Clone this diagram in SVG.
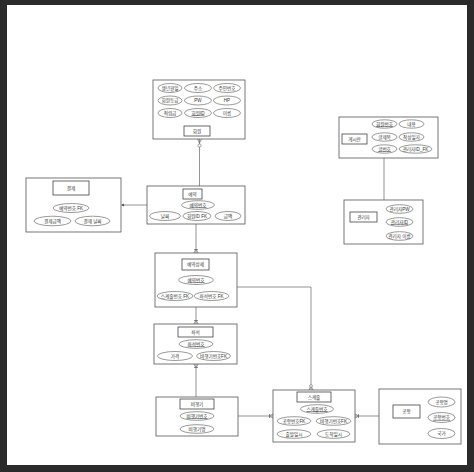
<svg xmlns="http://www.w3.org/2000/svg" width="474" height="472" viewBox="0 0 474 472">
<style>
.box{fill:#fff;stroke:#555;stroke-width:0.8}
.tb{fill:#fff;stroke:#444;stroke-width:0.8}
.el{fill:#fff;stroke:#555;stroke-width:0.6}
.t{font-family:"Liberation Sans","Noto Sans CJK KR",sans-serif;font-size:4.6px;fill:#333;text-anchor:middle;dominant-baseline:central}
.u{text-decoration:underline}
.c{fill:none;stroke:#666;stroke-width:0.7}
</style>
<rect x="0" y="0" width="474" height="472" fill="#2b2b2b"/>
<rect x="7" y="5" width="460" height="460" fill="#fff"/>

<g id="connectors">
  <!-- 회원 - 예약 -->
  <line class="c" x1="199.5" y1="139" x2="199.5" y2="186"/>
  <path class="c" d="M197.5,139 L199.5,143 L201.5,139"/>
  <circle cx="199.5" cy="145.5" r="1.6" fill="#fff" stroke="#666" stroke-width="0.6"/>
  <!-- 예약 -> 결제 -->
  <line class="c" x1="147" y1="205" x2="122" y2="205"/>
  <path d="M121,205 L124,203.6 L124,206.4 Z" fill="#555"/>
  <!-- 예약 - 예약상세 -->
  <line class="c" x1="196" y1="224" x2="196" y2="253"/>
  <path class="c" d="M194,253 L196,249 L198,253 M194,249.5 H198"/>
  <!-- 예약상세 - 스케줄 -->
  <path class="c" d="M237,287 H311 V390"/>
  <path class="c" d="M309,390 L311,386 L313,390"/>
  <circle cx="311" cy="386" r="1.4" fill="#fff" stroke="#666" stroke-width="0.6"/>
  <!-- 예약상세 - 좌석 -->
  <line class="c" x1="196" y1="307" x2="196" y2="324"/>
  <path class="c" d="M194,324 L196,320 L198,324 M194,320.5 H198"/>
  <!-- 좌석 - 비행기 -->
  <line class="c" x1="196" y1="364" x2="196" y2="397"/>
  <path class="c" d="M194,364 L196,368 L198,364 M194,367.5 H198"/>
  <!-- 비행기 - 스케줄 -->
  <line class="c" x1="238" y1="416" x2="273" y2="416"/>
  <path class="c" d="M273,414 L269,416 L273,418 M269.5,414 V418"/>
  <!-- 공항 - 스케줄 -->
  <line class="c" x1="379" y1="416" x2="355" y2="416"/>
  <path class="c" d="M355,414 L359,416 L355,418 M358.5,414 V418"/>
  <!-- 게시판 - 관리자 -->
  <line class="c" x1="384" y1="158" x2="384" y2="200"/>
</g>

<g id="member">
  <rect class="box" x="153" y="80" width="92" height="59"/>
  <ellipse class="el" cx="170" cy="88" rx="12" ry="4.5"/><text class="t" x="170" y="88">생년월일</text>
  <ellipse class="el" cx="198" cy="88" rx="13.5" ry="4.5"/><text class="t" x="198" y="88">주소</text>
  <ellipse class="el" cx="227" cy="88" rx="13.5" ry="4.5"/><text class="t" x="227" y="88">주민번호</text>
  <ellipse class="el" cx="170" cy="100.5" rx="12" ry="4.5"/><text class="t" x="170" y="100.5">회원등급</text>
  <ellipse class="el" cx="198" cy="100.5" rx="13.5" ry="4.5"/><text class="t" x="198" y="100.5">PW</text>
  <ellipse class="el" cx="227" cy="100.5" rx="13.5" ry="4.5"/><text class="t" x="227" y="100.5">HP</text>
  <ellipse class="el" cx="170" cy="113" rx="12" ry="4.5"/><text class="t" x="170" y="113">적립금</text>
  <ellipse class="el" cx="198" cy="113" rx="13.5" ry="4.5"/><text class="t u" x="198" y="113">회원ID</text>
  <ellipse class="el" cx="227" cy="113" rx="13.5" ry="4.5"/><text class="t" x="227" y="113">이름</text>
  <rect class="tb" x="184" y="126" width="26" height="10"/><text class="t" x="197" y="131">회원</text>
</g>

<g id="payment">
  <rect class="box" x="26" y="178" width="95" height="54"/>
  <rect class="tb" x="53" y="181" width="36" height="14"/><text class="t" x="71" y="188">결제</text>
  <ellipse class="el" cx="71" cy="208" rx="18" ry="4.5"/><text class="t" x="71" y="208">예약번호 FK</text>
  <ellipse class="el" cx="52.5" cy="221" rx="18.5" ry="4.8"/><text class="t" x="52.5" y="221">결제금액</text>
  <ellipse class="el" cx="92.5" cy="221" rx="17.5" ry="4.8"/><text class="t" x="92.5" y="221">결제 날짜</text>
</g>

<g id="reservation">
  <rect class="box" x="147" y="186" width="98" height="38"/>
  <rect class="tb" x="183" y="189" width="19" height="10"/><text class="t" x="192.5" y="194">예약</text>
  <ellipse class="el" cx="198" cy="205" rx="16.5" ry="4.3"/><text class="t u" x="198" y="205">예약번호</text>
  <ellipse class="el" cx="165" cy="216" rx="15.5" ry="4.5"/><text class="t" x="165" y="216">날짜</text>
  <ellipse class="el" cx="197" cy="216" rx="14" ry="4.5"/><text class="t" x="197" y="216">회원ID FK</text>
  <ellipse class="el" cx="228" cy="216" rx="13" ry="4.5"/><text class="t" x="228" y="216">금액</text>
</g>

<g id="reservation-detail">
  <rect class="box" x="155" y="253" width="82" height="54"/>
  <rect class="tb" x="182" y="259" width="27" height="11"/><text class="t" x="195.5" y="264.5">예약상세</text>
  <ellipse class="el" cx="196" cy="280" rx="17.5" ry="4.5"/><text class="t u" x="196" y="280">예약번호</text>
  <ellipse class="el" cx="175" cy="296" rx="18" ry="4.5"/><text class="t" x="175" y="296">스케줄번호 FK</text>
  <ellipse class="el" cx="211.5" cy="296" rx="17.5" ry="4.5"/><text class="t" x="211.5" y="296">좌석번호 FK</text>
</g>

<g id="seat">
  <rect class="box" x="154" y="324" width="83" height="40"/>
  <rect class="tb" x="178" y="327" width="35" height="10"/><text class="t" x="195.5" y="332">좌석</text>
  <ellipse class="el" cx="196" cy="344" rx="17" ry="4.3"/><text class="t u" x="196" y="344">좌석번호</text>
  <ellipse class="el" cx="175" cy="356" rx="17.5" ry="4.5"/><text class="t" x="175" y="356">가격</text>
  <ellipse class="el" cx="213.5" cy="356" rx="17" ry="4.5"/><text class="t" x="213.5" y="356">비행기번호FK</text>
</g>

<g id="airplane">
  <rect class="box" x="156" y="397" width="82" height="39"/>
  <rect class="tb" x="180" y="399" width="34" height="10"/><text class="t" x="197" y="404">비행기</text>
  <ellipse class="el" cx="197" cy="416" rx="17" ry="4.3"/><text class="t u" x="197" y="416">비행기번호</text>
  <ellipse class="el" cx="197" cy="429" rx="17" ry="4.3"/><text class="t" x="197" y="429">비행기명</text>
</g>

<g id="schedule">
  <rect class="box" x="273" y="390" width="82" height="52"/>
  <rect class="tb" x="297" y="392" width="34" height="10"/><text class="t" x="314" y="397">스케줄</text>
  <ellipse class="el" cx="317" cy="409" rx="16.5" ry="4.3"/><text class="t u" x="317" y="409">스케줄번호</text>
  <ellipse class="el" cx="294" cy="421" rx="17" ry="4.3"/><text class="t" x="294" y="421">공항번호FK</text>
  <ellipse class="el" cx="333.5" cy="421" rx="17.5" ry="4.3"/><text class="t" x="333.5" y="421">비행기번호FK</text>
  <ellipse class="el" cx="294" cy="434" rx="17" ry="4.3"/><text class="t" x="294" y="434">출발일시</text>
  <ellipse class="el" cx="333.5" cy="434" rx="16.5" ry="4.3"/><text class="t" x="333.5" y="434">도착일시</text>
</g>

<g id="airport">
  <rect class="box" x="379" y="389" width="82" height="55"/>
  <rect class="tb" x="393" y="405" width="27" height="13"/><text class="t" x="406.5" y="411.5">공항</text>
  <ellipse class="el" cx="441.5" cy="402" rx="13.5" ry="5"/><text class="t" x="441.5" y="402">공항명</text>
  <ellipse class="el" cx="441.5" cy="417.5" rx="13.5" ry="5"/><text class="t u" x="441.5" y="417.5">공항번호</text>
  <ellipse class="el" cx="441.5" cy="433.5" rx="13.5" ry="5"/><text class="t" x="441.5" y="433.5">국가</text>
</g>

<g id="board">
  <rect class="box" x="339" y="117" width="99" height="41"/>
  <rect class="tb" x="342" y="134" width="25" height="10"/><text class="t" x="354.5" y="139">게시판</text>
  <ellipse class="el" cx="384.5" cy="124" rx="12.5" ry="4.2"/><text class="t u" x="384.5" y="124">회원번호</text>
  <ellipse class="el" cx="411.5" cy="124" rx="12.5" ry="4.2"/><text class="t" x="411.5" y="124">내용</text>
  <ellipse class="el" cx="384.5" cy="137" rx="12.5" ry="4.2"/><text class="t" x="384.5" y="137">글제목</text>
  <ellipse class="el" cx="411.5" cy="137" rx="12.5" ry="4.2"/><text class="t" x="411.5" y="137">작성일자</text>
  <ellipse class="el" cx="384.5" cy="149" rx="12.5" ry="4.2"/><text class="t u" x="384.5" y="149">글번호</text>
  <ellipse class="el" cx="415.5" cy="149" rx="16.5" ry="4.2"/><text class="t" x="415.5" y="149">관리자ID_FK</text>
</g>

<g id="admin">
  <rect class="box" x="344" y="200" width="79" height="44"/>
  <rect class="tb" x="350" y="212" width="27" height="10"/><text class="t" x="363.5" y="217">관리자</text>
  <ellipse class="el" cx="399.5" cy="209" rx="13.5" ry="4.3"/><text class="t" x="399.5" y="209">관리자PW</text>
  <ellipse class="el" cx="399.5" cy="222" rx="13.5" ry="4.3"/><text class="t u" x="399.5" y="222">관리자ID</text>
  <ellipse class="el" cx="399.5" cy="236" rx="13.5" ry="4.3"/><text class="t" x="399.5" y="236">관리자 이름</text>
</g>
</svg>
